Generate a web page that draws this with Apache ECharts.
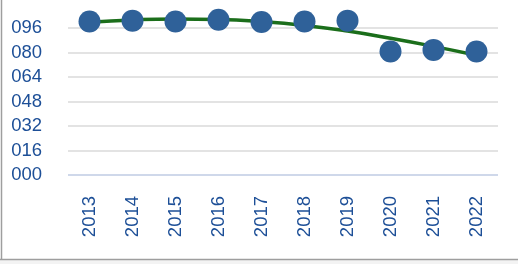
<!DOCTYPE html>
<html>
<head>
<meta charset="utf-8">
<style>
  html, body { margin: 0; padding: 0; background: #ffffff; }
  #chart { width: 518px; height: 264px; }
</style>
<script src="https://cdn.jsdelivr.net/npm/echarts@6/dist/echarts.min.js"></script>
</head>
<body>
<div id="chart"></div>
<script>
const years = ['2013','2014','2015','2016','2017','2018','2019','2020','2021','2022'];
const values = [100.3, 100.8, 100.3, 101.4, 99.9, 100.3, 100.8, 80.7, 81.7, 80.7];
const trend = [99.8, 101.3, 101.9, 101.6, 100.2, 97.7, 94.0, 89.3, 84.0, 78.2];
const yTicks = [0, 16, 32, 48, 64, 80, 96];

const chart = echarts.init(document.getElementById('chart'), null, { renderer: 'canvas' });
const textColor = '#1d4f97';
chart.setOption({
  backgroundColor: '#ffffff',
  animation: false,
  grid: { left: 68, right: 20, top: 28, bottom: 89, containLabel: false },
  xAxis: {
    type: 'category',
    data: years,
    boundaryGap: true,
    axisLine: { show: false },
    axisTick: { show: false },
    axisLabel: {
      rotate: 90,
      margin: 21,
      color: textColor,
      fontFamily: 'Liberation Sans, Arial, sans-serif',
      fontSize: 18.5
    },
    splitLine: { show: false }
  },
  yAxis: {
    type: 'value',
    min: yTicks[0],
    max: yTicks[yTicks.length - 1],
    interval: 16,
    axisLine: { show: false },
    axisTick: { show: false },
    axisLabel: {
      margin: 26,
      color: textColor,
      fontFamily: 'Liberation Sans, Arial, sans-serif',
      fontSize: 18.5,
      formatter: v => String(v).padStart(3, '0')
    },
    splitLine: {
      lineStyle: {
        color: ['#cfd8ea', '#e3e3e3', '#e3e3e3', '#e3e3e3', '#e3e3e3', '#e3e3e3', '#e3e3e3'],
        width: 2
      }
    }
  },
  graphic: [
    { type: 'rect', shape: { x: 0, y: 260, width: 518, height: 4 }, style: { fill: '#f3f3f3' }, silent: true },
    { type: 'line', shape: { x1: 1.5, y1: 0, x2: 1.5, y2: 260 }, style: { stroke: '#9e9e9e', lineWidth: 1.5 }, silent: true },
    { type: 'line', shape: { x1: 0, y1: 259.5, x2: 518, y2: 259.5 }, style: { stroke: '#9e9e9e', lineWidth: 1.5 }, silent: true }
  ],
  series: [
    {
      type: 'line',
      data: trend,
      smooth: true,
      symbol: 'none',
      clip: false,
      lineStyle: { color: '#1b6e1b', width: 3.5 },
      z: 2
    },
    {
      type: 'scatter',
      data: values,
      symbol: 'circle',
      symbolSize: 22,
      clip: false,
      itemStyle: { color: '#2f6199', opacity: 1 },
      z: 3
    }
  ]
});
</script>
</body>
</html>
